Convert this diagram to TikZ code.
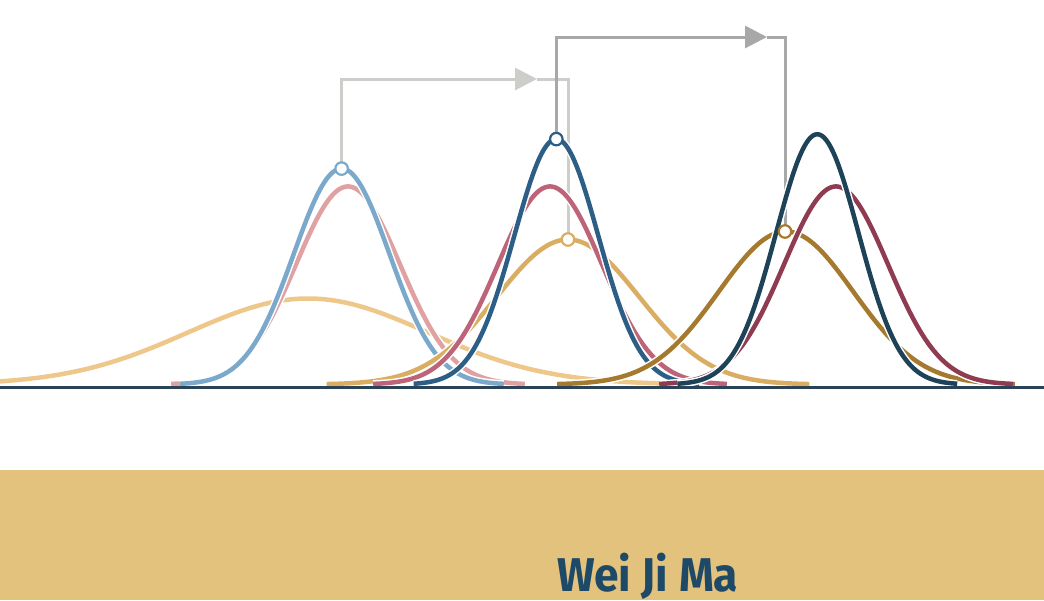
\documentclass[tikz,border=0pt]{standalone}
\usepackage{fontspec}
\newfontfamily\namefont{Fira Sans}
\usetikzlibrary{arrows.meta}
\definecolor{priorA}{HTML}{EEC88A}
\definecolor{likeA}{HTML}{DFA1A1}
\definecolor{postA}{HTML}{7AA9CC}
\definecolor{priorB}{HTML}{D9AE62}
\definecolor{likeB}{HTML}{BE6478}
\definecolor{postB}{HTML}{2D5F86}
\definecolor{priorC}{HTML}{A57A2E}
\definecolor{likeC}{HTML}{8F3B52}
\definecolor{postC}{HTML}{1E4257}
\definecolor{baseC}{HTML}{2A4356}
\definecolor{bandC}{HTML}{E3C27E}
\definecolor{nameC}{HTML}{1E4A67}
\definecolor{connA}{HTML}{CDCDCA}
\definecolor{connB}{HTML}{A8A8A8}
\tikzset{
  curve/.style={draw=#1, line width=4.5pt, line cap=butt,
    preaction={draw=white, line width=7.5pt}},
  conn/.style={draw=#1, line width=3pt},
  marker/.style={circle, draw=#1, fill=white, line width=2.2pt,
    inner sep=0pt, minimum size=12.5pt},
  tipstyle/.style={-{Triangle[length=22pt,width=22pt]}}
}
\newcommand\gaussplot[4]{%
  \pgfmathsetmacro\gA{max(0,#1-3.4*#3)}%
  \pgfmathsetmacro\gB{min(1044,#1+3.4*#3)}%
  \draw[curve=#4] plot[domain=\gA:\gB, samples=180, smooth]
    (\x,{384.5-#2*exp(-0.5*((\x-#1)/#3)^2)});}
\begin{document}
\begin{tikzpicture}[x=1pt,y=-1pt]
\useasboundingbox (0,0) rectangle (1044,600);
\fill[bandC] (0,470) rectangle (1044,600);
% marker positions
\coordinate (post1) at (341.6,168.6);
\coordinate (prior2) at (568,239.5);
\coordinate (post2) at (556.3,139.1);
\coordinate (prior3) at (785,231.5);
\coordinate (tip1) at (537,79);
\coordinate (tip2) at (767,37);
% connectors
\draw[conn=connA, tipstyle] (post1) |- (tip1);
\draw[conn=connA] (tip1) -| (prior2);
\draw[conn=connB, tipstyle] (post2) |- (tip2);
\draw[conn=connB] (tip2) -| (prior3);
% set 1
\gaussplot{308}{86}{119.7}{priorA}
\gaussplot{348}{198}{52}{likeA}
\gaussplot{341.6}{215.9}{47.7}{postA}
% set 2
\gaussplot{568}{145}{71}{priorB}
\gaussplot{550}{198}{52}{likeB}
\gaussplot{556.3}{245.4}{41.96}{postB}
% set 3
\gaussplot{786}{153}{67.3}{priorC}
\gaussplot{836}{198}{52}{likeC}
\gaussplot{817.3}{250.2}{41.15}{postC}
% baseline
\coordinate (bl) at (0,387.5);
\coordinate (br) at (1044,387.5);
\draw[baseC, line width=3.5pt] (bl) -- (br);
% markers
\node[marker=postA] (m1) at (post1) {};
\node[marker=priorB] (m2) at (prior2) {};
\node[marker=postB] (m3) at (post2) {};
\node[marker=priorC] (m4) at (prior3) {};
% name
\node[anchor=base west, text=nameC, inner sep=0pt] (author) at (557,591.7)
  {\resizebox{181pt}{38.4pt}{\namefont\bfseries Wei Ji Ma}};
\end{tikzpicture}
\end{document}
